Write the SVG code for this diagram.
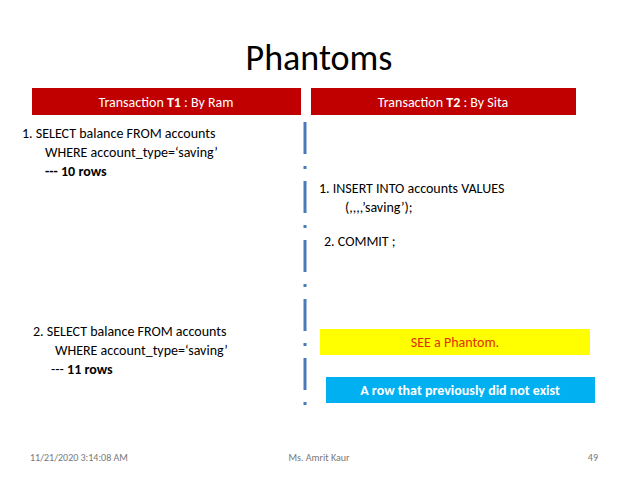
<svg xmlns="http://www.w3.org/2000/svg" width="638" height="478" viewBox="0 0 638 478">
<style>
text{font-family:Carlito,"Liberation Sans",Arial,sans-serif;fill:#000}
.h{fill:#fff;font-size:14px}
.b{font-size:14px}
.f{font-size:10px;fill:#777}
</style>
<rect width="638" height="478" fill="#fff"/>
<text x="319" y="70" text-anchor="middle" font-size="36">Phantoms</text>
<g id="t1"><rect x="32" y="88" width="269" height="27" fill="#c00000"/><text class="h" x="166" y="107" text-anchor="middle">Transaction <tspan font-weight="bold">T1</tspan> : By Ram</text></g>
<g id="t2"><rect x="311" y="88" width="265" height="27" fill="#c00000"/><text class="h" x="443" y="107" text-anchor="middle">Transaction <tspan font-weight="bold">T2</tspan> : By Sita</text></g>
<g id="connectors"><line x1="305" y1="122" x2="305" y2="415" stroke="#4a7ab8" stroke-width="3" stroke-dasharray="32,12,3,12"/></g>
<g id="s1"><text class="b" x="22" y="138">1.  SELECT balance FROM accounts</text><text class="b" x="45" y="157">WHERE account_type=‘saving’</text><text class="b" x="45" y="176" font-weight="bold">--- 10 rows</text></g>
<g id="i1"><text class="b" x="319" y="193">1.    INSERT INTO accounts VALUES</text><text class="b" x="345" y="212">(,,,,’saving’);</text></g>
<g id="c1"><text class="b" x="324" y="246">2.    COMMIT ;</text></g>
<g id="s2"><text class="b" x="33" y="336">2. SELECT balance FROM accounts</text><text class="b" x="55" y="355">WHERE account_type=‘saving’</text><text class="b" x="51" y="374">--- <tspan font-weight="bold">11 rows</tspan></text></g>
<g id="p"><rect x="320" y="329" width="270" height="26" fill="#ffff00"/><text class="b" x="455" y="347" text-anchor="middle" fill="#e03000" style="fill:#e03000">SEE a Phantom.</text></g>
<g id="r"><rect x="326" y="377" width="269" height="26" fill="#00b0f0"/><text class="b" x="460" y="395" text-anchor="middle" font-weight="bold" style="fill:#fff">A row that previously did not exist</text></g>
<text class="f" x="30" y="461">11/21/2020 3:14:08 AM</text>
<text class="f" x="319" y="461" text-anchor="middle">Ms. Amrit Kaur</text>
<text class="f" x="598" y="461" text-anchor="end">49</text>
</svg>
